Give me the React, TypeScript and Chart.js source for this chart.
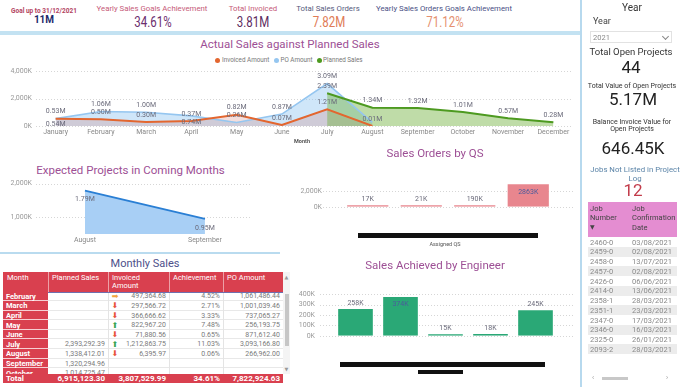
import React, { useEffect, useRef } from "react";
import { Chart, registerables } from "chart.js";
Chart.register(...registerables);

const FONT = "Roboto, 'Noto Sans', 'DejaVu Sans', sans-serif";

// ---------------- Data ----------------
const months = ["January", "February", "March", "April", "May", "June", "July", "August", "September", "October", "November", "December"];
const invoicedAmount = [531824.49, 497364.68, 297566.72, 366666.62, 822967.2, 71880.56, 1212863.75, 6395.97, null, null, null, null];
const poAmount = [535398.51, 1061486.44, 1001039.46, 737065.27, 256193.75, 871612.4, 3093166.8, 266962.0, null, null, null, null];
const plannedSales = [null, null, null, null, null, null, 2393292.39, 1338412.01, 1320294.96, 1014725.47, 570000.0, 278398.47];
const mainYTicks = [0, 2000000, 4000000];

const expectedMonths = ["August", "September"];
const expectedProjects = [1790000, 950000];
const expectedYTicks = [1000000, 2000000];

const qsNames = ["QS 1", "QS 2", "QS 3", "QS 4"];
const qsSalesOrders = [17000, 21000, 190000, 2863000];
const qsYTicks = [0, 2000000];

const engineerNames = ["Engineer 1", "Engineer 2", "Engineer 3", "Engineer 4", "Engineer 5"];
const engineerSales = [258000, 374000, 15000, 18000, 245000];
const engineerYTicks = [0, 100000, 200000, 300000, 400000];

const tableMonths = ["February", "March", "April", "May", "June", "July", "August", "September", "October"];
const tablePlanned = ["", "", "", "", "", "2,393,292.39", "1,338,412.01", "1,320,294.96", "1,014,725.47"];
const tableInvoiced = ["497,364.68", "297,566.72", "366,666.62", "822,967.20", "71,880.56", "1,212,863.75", "6,395.97", "", ""];
const tableTrend = ["right", "down", "down", "up", "down", "up", "down", "", ""];
const tableAchievement = ["4.52%", "2.71%", "3.33%", "7.48%", "0.65%", "11.03%", "0.06%", "", ""];
const tablePO = ["1,061,486.44", "1,001,039.46", "737,065.27", "256,193.75", "871,612.40", "3,093,166.80", "266,962.00", "", ""];
const tableTotals = ["Total", "6,915,123.30", "3,807,529.99", "34.61%", "7,822,924.63"];
const tableHeaders = [["Month"], ["Planned Sales"], ["Invoiced", "Amount"], ["Achievement"], ["PO Amount"]];

const jobNumbers = ["2460-0", "2459-0", "2458-0", "2457-0", "2426-0", "2414-0", "2358-1", "2351-1", "2347-0", "2346-0", "2325-0", "2093-2"];
const jobDates = ["03/08/2021", "02/08/2021", "13/07/2021", "02/08/2021", "06/06/2021", "13/06/2021", "28/03/2021", "23/03/2021", "17/03/2021", "16/03/2021", "26/01/2021", "28/03/2021"];

// ---------------- Helpers ----------------
const fmtAxisK = (v: number) => Math.round(v / 1000).toLocaleString("en-US") + "K";
const fmtLabel = (v: number, kind: string) =>
  kind === "M" ? (v / 1e6).toFixed(2) + "M" : String(Math.round(v / 1000)) + "K";

const extGrid = {
  id: "extGrid",
  beforeDraw(chart: any, _a: any, opts: any) {
    if (!opts || opts.x0 == null) return;
    const y = chart.scales.y;
    const ctx = chart.ctx;
    ctx.save();
    ctx.strokeStyle = opts.color || "#d6d6d6";
    ctx.lineWidth = 1;
    ctx.setLineDash([1, 2]);
    y.ticks.forEach((t: any) => {
      const py = Math.round(y.getPixelForValue(t.value)) + 0.5;
      ctx.beginPath();
      ctx.moveTo(opts.x0, py);
      ctx.lineTo(opts.x1, py);
      ctx.stroke();
    });
    ctx.restore();
  },
};

const valueLabels = {
  id: "valueLabels",
  afterDatasetsDraw(chart: any, _a: any, opts: any) {
    if (!opts || !opts.kind) return;
    const ctx = chart.ctx;
    ctx.save();
    ctx.font = `${opts.size || 7}px ${FONT}`;
    ctx.textAlign = "center";
    ctx.textBaseline = "middle";
    chart.data.datasets.forEach((ds: any, di: number) => {
      const meta = chart.getDatasetMeta(di);
      meta.data.forEach((el: any, i: number) => {
        const raw = ds.data[i];
        const v = raw && typeof raw === "object" ? raw.y : raw;
        if (v == null) return;
        const pos = (ds.labelPos && ds.labelPos[i]) || opts.pos || "above";
        if (pos === "hide") return;
        let y;
        ctx.fillStyle = opts.color || "#666";
        if (meta.type === "bar") {
          if (el.y - opts.gap - 4 < chart.chartArea.top) {
            y = el.y + opts.inside;
            ctx.fillStyle = opts.insideColor || "#4a5d9e";
          } else {
            y = el.y - opts.gap;
          }
        } else {
          y = pos === "below" ? el.y + (opts.below || 6) : el.y - (opts.above || 7);
        }
        ctx.fillText(fmtLabel(v, opts.kind), el.x, y);
      });
    });
    ctx.restore();
  },
};

const tickFont = { family: FONT, size: 7 };
const noGrid = { display: false, drawTicks: false };

// ---------------- Chart configs ----------------
const mainConfig: any = {
  type: "line",
  data: {
    labels: months,
    datasets: [
      {
        label: "Invoiced Amount", data: invoicedAmount, borderColor: "#e3662f", backgroundColor: "rgba(205,105,95,0.22)",
        fill: "origin", borderWidth: 2, pointRadius: 0, tension: 0, order: 2,
      },
      {
        label: "PO Amount", data: poAmount, borderColor: "#95c6f0", backgroundColor: "rgba(140,195,240,0.42)",
        fill: "origin", borderWidth: 1.6, pointRadius: 0, tension: 0, order: 3,
        labelPos: ["below", "above", "above", "below", "above", "above", "above", "hide"],
      },
      {
        label: "Planned Sales", data: plannedSales, borderColor: "#4d9a20", backgroundColor: "rgba(112,178,62,0.45)",
        fill: "origin", borderWidth: 2, pointRadius: 0, tension: 0, order: 1,
      },
    ],
  },
  options: {
    responsive: false, animation: false, devicePixelRatio: 1,
    layout: { padding: { top: 5, right: 4, left: 0, bottom: 0 } },
    plugins: {
      legend: { display: false }, tooltip: { enabled: false },
      filler: { drawTime: "beforeDatasetsDraw" },
      extGrid: { x0: 36, x1: 572 },
      valueLabels: { kind: "M", above: 7, below: 6, color: "#6a6a7a" },
    },
    scales: {
      x: {
        offset: true, grid: noGrid, border: { display: false },
        ticks: { font: tickFont, color: "#888", padding: 2, maxRotation: 0, autoSkip: false },
        afterFit: (s: any) => { s.height = 24; },
      },
      y: {
        min: 0, max: 4000000, grid: noGrid, border: { display: false },
        afterBuildTicks: (s: any) => { s.ticks = mainYTicks.map((v) => ({ value: v })); },
        afterFit: (s: any) => { s.width = 33; },
        ticks: { font: tickFont, color: "#999", padding: 1, callback: (v: any) => fmtAxisK(Number(v)) },
      },
    },
  },
  plugins: [extGrid, valueLabels],
};

const expectedConfig: any = {
  type: "line",
  data: {
    datasets: [
      {
        label: "Expected Projects", data: expectedProjects.map((v, i) => ({ x: i, y: v })),
        borderColor: "#2a7fd4", backgroundColor: "#a8cff5", fill: "start", borderWidth: 2, pointRadius: 0, tension: 0,
      },
    ],
  },
  options: {
    responsive: false, animation: false, devicePixelRatio: 1,
    layout: { padding: { top: 5, right: 28, left: 0, bottom: 0 } },
    plugins: {
      legend: { display: false }, tooltip: { enabled: false },
      extGrid: { x0: 36, x1: 252 },
      valueLabels: { kind: "M", pos: "below", below: 9, color: "#6a6a7a" },
    },
    scales: {
      x: {
        type: "linear", min: -0.408, max: 1.392, grid: noGrid, border: { display: false },
        afterBuildTicks: (s: any) => { s.ticks = expectedMonths.map((_, i) => ({ value: i })); },
        ticks: { font: tickFont, color: "#888", padding: 2, maxRotation: 0, autoSkip: false, callback: (v: any) => expectedMonths[Number(v)] },
        afterFit: (s: any) => { s.height = 14; },
      },
      y: {
        min: 500000, max: 2100000, grid: noGrid, border: { display: false },
        afterBuildTicks: (s: any) => { s.ticks = expectedYTicks.map((v) => ({ value: v })); },
        afterFit: (s: any) => { s.width = 36; },
        ticks: { font: tickFont, color: "#999", padding: 4, callback: (v: any) => fmtAxisK(Number(v)) },
      },
    },
  },
  plugins: [extGrid, valueLabels],
};

const barConfig = (labels: string[], values: number[], ticks: number[], max: number, color: string, o: any): any => ({
  type: "bar",
  data: {
    labels,
    datasets: [{ data: values, backgroundColor: color, barPercentage: 0.77, categoryPercentage: 1, minBarLength: 1.5 }],
  },
  options: {
    responsive: false, animation: false, devicePixelRatio: 1,
    layout: { padding: { top: o.top, right: o.right, left: 0, bottom: 0 } },
    plugins: {
      legend: { display: false }, tooltip: { enabled: false },
      extGrid: { x0: o.g0, x1: o.g1 },
      valueLabels: { kind: "K", gap: 6, inside: 7.5, color: "#6a6a7a", insideColor: "#4b5b9b" },
    },
    scales: {
      x: {
        grid: noGrid, border: { display: false }, ticks: { display: false },
        afterFit: (s: any) => { s.height = 1; },
      },
      y: {
        min: 0, max, grid: noGrid, border: { display: false },
        afterBuildTicks: (s: any) => { s.ticks = ticks.map((v) => ({ value: v })); },
        afterFit: (s: any) => { s.width = o.yw; },
        ticks: { font: tickFont, color: "#999", padding: o.pad, callback: (v: any) => fmtAxisK(Number(v)) },
      },
    },
  },
  plugins: [extGrid, valueLabels],
});

const qsConfig = barConfig(qsNames, qsSalesOrders, qsYTicks, 3000000, "#e8868e", { top: 7.5, right: 25, g0: 33, g1: 283, yw: 51, pad: 19 });
const engineerConfig = barConfig(engineerNames, engineerSales, engineerYTicks, 400000, "#2aa876", { top: 6, right: 22, g0: 30, g1: 283, yw: 43, pad: 18 });

// ---------------- Components ----------------
function ChartBox({ left, top, width, height, config }: any) {
  const ref = useRef<HTMLCanvasElement>(null);
  useEffect(() => {
    const c = new Chart(ref.current as HTMLCanvasElement, config);
    return () => c.destroy();
  }, []);
  return <canvas ref={ref} width={width} height={height} style={{ position: "absolute", left, top, width, height }} />;
}

function T({ x, y, s, c, t, a = "center", b = false, sx = 1, f = FONT }: any) {
  const h = Math.ceil(s * 1.35);
  const left = a === "center" ? x - 200 : a === "left" ? x : x - 400;
  const origin = a === "center" ? "50% 50%" : a === "left" ? "0 50%" : "100% 50%";
  return (
    <div
      style={{
        position: "absolute", left, top: y - h / 2, width: 400, height: h, lineHeight: h + "px", fontSize: s, color: c,
        fontWeight: b ? 700 : 400, textAlign: a, whiteSpace: "nowrap", fontFamily: f,
        transform: sx !== 1 ? `scaleX(${sx})` : undefined, transformOrigin: origin,
      }}
    >
      {t}
    </div>
  );
}

function Box({ x, y, w, h, bg, style }: any) {
  return <div style={{ position: "absolute", left: x, top: y, width: w, height: h, background: bg, ...style }} />;
}

const RED = "#d9404f";
const TITLE = "#9d4f95";
const colEdges = [3, 48, 108, 169, 223, 283];

function MonthlyTable() {
  const rowH = 9.6;
  const bodyTop = 292;
  const firstRowTop = 291.5;
  const els: any[] = [];
  // header
  els.push(<Box key="hb" x={3} y={272} w={280} h={20} bg={RED} />);
  tableHeaders.forEach((lines, ci) => {
    lines.forEach((ln, li) => {
      els.push(<T key={`h${ci}${li}`} x={colEdges[ci] + 4} y={277 + li * 8.5} s={7.5} c="#fff" t={ln} a="left" />);
    });
    if (ci > 0) els.push(<Box key={`hv${ci}`} x={colEdges[ci]} y={272} w={1} h={20} bg="rgba(255,255,255,0.5)" />);
  });
  // body rows
  const rows: any[] = [];
  rows.push(<Box key="mcol" x={0} y={0} w={45} h={82} bg={RED} />);
  tableMonths.forEach((m, ri) => {
    const top = firstRowTop + ri * rowH - bodyTop;
    const cy = top + rowH / 2;
    rows.push(<Box key={`mb${ri}`} x={0} y={Math.round(top + rowH) - 1} w={45} h={1} bg="rgba(255,255,255,0.75)" />);
    rows.push(<T key={`m${ri}`} x={3} y={cy} s={7.5} c="#fff" t={m} a="left" b />);
    rows.push(<Box key={`rl${ri}`} x={45} y={Math.round(top + rowH) - 1} w={235} h={1} bg="#e8e8e8" />);
    const vals = [tablePlanned[ri], tableInvoiced[ri], tableAchievement[ri], tablePO[ri]];
    vals.forEach((v, vi) => {
      if (v) rows.push(<T key={`v${ri}${vi}`} x={colEdges[vi + 2] - 3 - 3} y={cy} s={7} c="#7a7a7a" t={v} a="right" />);
    });
    const tr = tableTrend[ri];
    if (tr) {
      const glyph = tr === "up" ? "⬆" : tr === "down" ? "⬇" : "➡";
      const col = tr === "up" ? "#3aa655" : tr === "down" ? "#e8553a" : "#f2a541";
      rows.push(<T key={`a${ri}`} x={115 - 3} y={cy} s={8} c={col} t={glyph} f="'DejaVu Sans', sans-serif" />);
    }
  });
  [108, 169, 223].forEach((x, i) => rows.push(<Box key={`bv${i}`} x={x - 3} y={0} w={1} h={82} bg="#e4e4e4" />));
  els.push(
    <div key="body" style={{ position: "absolute", left: 3, top: bodyTop, width: 280, height: 82, overflow: "hidden", background: "#fff" }}>
      {rows}
    </div>
  );
  els.push(<Box key="hl" x={48} y={291.5} w={235} h={1} bg="#6f6fae" />);
  // scrollbar
  els.push(<Box key="sb" x={283} y={272} w={7} h={102} bg="#f4f4f4" />);
  els.push(<Box key="st" x={284.5} y={294} w={4} h={52} bg="#c6c6c6" />);
  els.push(<T key="su" x={286.5} y={277} s={5} c="#999" t="▲" />);
  els.push(<T key="sd" x={286.5} y={369} s={5} c="#999" t="▼" />);
  // total
  els.push(<Box key="tb" x={3} y={374} w={280} h={9} bg={RED} />);
  tableTotals.forEach((t, i) => {
    if (i === 0) els.push(<T key="t0" x={6} y={378.5} s={8} c="#fff" t={t} a="left" b />);
    else els.push(<T key={`t${i}`} x={colEdges[i + 1] - 3} y={378.5} s={8} c="#fff" t={t} a="right" b />);
  });
  return <>{els}</>;
}

function JobTable() {
  const els: any[] = [];
  els.push(<Box key="hb" x={588} y={202} w={89} h={35} bg="#e48dd1" />);
  els.push(<T key="h1" x={590} y={208} s={7.5} c="#444" t="Job" a="left" />);
  els.push(<T key="h2" x={590} y={217} s={7.5} c="#444" t="Number" a="left" />);
  els.push(<T key="h3" x={590} y={226.5} s={6} c="#444" t="▼" a="left" />);
  els.push(<T key="h4" x={632} y={208} s={7.5} c="#444" t="Job" a="left" />);
  els.push(<T key="h5" x={632} y={217} s={7.5} c="#444" t="Confirmation" a="left" />);
  els.push(<T key="h6" x={632} y={227} s={7.5} c="#444" t="Date" a="left" />);
  jobNumbers.forEach((jn, i) => {
    const top = 237 + i * 9.75;
    if (i % 2 === 1) els.push(<Box key={`rb${i}`} x={588} y={top} w={89} h={9.75} bg="#ececec" />);
    els.push(<T key={`n${i}`} x={590} y={top + 5} s={7.5} c="#8a8a8a" t={jn} a="left" />);
    els.push(<T key={`d${i}`} x={632} y={top + 5} s={7.5} c="#8a8a8a" t={jobDates[i]} a="left" />);
  });
  els.push(<T key="sl" x={593} y={378} s={7} c="#999" t="‹" />);
  els.push(<T key="sr" x={667} y={378} s={7} c="#999" t="›" />);
  els.push(<Box key="st" x={602} y={377} w={26} h={3} bg="#c8c8c8" />);
  return <>{els}</>;
}

export default function App() {
  useEffect(() => {
    document.body.style.margin = "0";
  }, []);
  return (
    <div style={{ position: "fixed", left: 0, top: 0, width: 680, height: 387, overflow: "hidden", background: "#fff", fontFamily: FONT }}>
      {/* KPI bar */}
      <T x={44} y={11} s={6.5} c="#b2435f" t="Goal up to 31/12/2021" b />
      <T x={44} y={20} s={10} c="#1f2a6b" t="11M" b />
      <T x={152} y={8} s={7.8} c="#c65a78" t="Yearly Sales Goals Achievement" />
      <T x={153} y={22} s={14} c="#6b2d6e" t="34.61%" sx={0.82} />
      <T x={253} y={8} s={7.8} c="#c65a78" t="Total Invoiced" />
      <T x={253} y={22} s={14} c="#5d2a5e" t="3.81M" sx={0.82} />
      <T x={328} y={8} s={7.8} c="#56597d" t="Total Sales Orders" />
      <T x={329} y={22.5} s={14} c="#e07b55" t="7.82M" sx={0.82} />
      <T x={444} y={8} s={7.8} c="#4a4f85" t="Yearly Sales Orders Goals Achievement" />
      <T x={445} y={22.5} s={14} c="#e5906f" t="71.12%" sx={0.82} />
      <Box x={0} y={31} w={580} h={4} bg="#c3e2f2" />

      {/* Main chart */}
      <T x={290} y={44} s={11.5} c={TITLE} t="Actual Sales against Planned Sales" />
      <div style={{ position: "absolute", left: 215, top: 57.5, width: 5, height: 5, borderRadius: 3, background: "#e3662f" }} />
      <T x={222} y={60} s={6.3} c="#777" t="Invoiced Amount" a="left" />
      <div style={{ position: "absolute", left: 273.5, top: 57.5, width: 5, height: 5, borderRadius: 3, background: "#95c6f0" }} />
      <T x={280.5} y={60} s={6.3} c="#777" t="PO Amount" a="left" />
      <div style={{ position: "absolute", left: 316.5, top: 57.5, width: 5, height: 5, borderRadius: 3, background: "#4d9a20" }} />
      <T x={323} y={60} s={6.3} c="#777" t="Planned Sales" a="left" />
      <ChartBox left={0} top={66} width={580} height={84} config={mainConfig} />
      <T x={302} y={141} s={5.5} c="#555" t="Month" b />

      {/* Expected projects */}
      <T x={130.5} y={170} s={11.5} c={TITLE} t="Expected Projects in Coming Months" />
      <ChartBox left={0} top={172} width={280} height={76} config={expectedConfig} />
      <Box x={0} y={252} w={280} h={2} bg="#b9dbef" />

      {/* Sales orders by QS */}
      <T x={435} y={153} s={11.5} c={TITLE} t="Sales Orders by QS" />
      <ChartBox left={290} top={160} width={290} height={70} config={qsConfig} />
      <Box x={358} y={233} w={180} h={5} bg="#111" />
      <T x={445} y={244} s={5.5} c="#555" t="Assigned QS" />

      {/* Monthly sales */}
      <T x={145} y={263.5} s={11} c="#4d4f8a" t="Monthly Sales" />
      <MonthlyTable />

      {/* Sales by engineer */}
      <T x={435} y={265} s={11.5} c={TITLE} t="Sales Achieved by Engineer" />
      <ChartBox left={290} top={272} width={290} height={86} config={engineerConfig} />
      <Box x={340} y={362} w={205} h={5} bg="#111" />
      <Box x={418} y={370} w={45} h={4} bg="#111" />

      {/* Right panel */}
      <Box x={580} y={0} w={2} h={387} bg="#b7d9ee" />
      <T x={632} y={8} s={10} c="#333" t="Year" />
      <T x={593} y={21} s={9} c="#444" t="Year" a="left" />
      <div style={{ position: "absolute", left: 590, top: 31, width: 82, height: 12, border: "1px solid #e2e2e2", boxSizing: "border-box" }} />
      <T x={593} y={37.5} s={7.5} c="#8a8a8a" t="2021" a="left" />
      <div style={{ position: "absolute", left: 663, top: 34, width: 4, height: 4, borderRight: "1px solid #888", borderBottom: "1px solid #888", transform: "rotate(45deg)" }} />
      <T x={631} y={51.5} s={9.5} c="#333" t="Total Open Projects" />
      <T x={631} y={67.5} s={17} c="#222" t="44" />
      <T x={632} y={86} s={7} c="#333" t="Total Value of Open Projects" />
      <T x={633} y={99.5} s={17} c="#222" t="5.17M" />
      <T x={632} y={122} s={7} c="#333" t="Balance Invoice Value for" />
      <T x={632} y={128.5} s={7} c="#333" t="Open Projects" />
      <T x={633} y={148} s={17} c="#222" t="646.45K" />
      <T x={635} y={169} s={7.8} c="#5b84a8" t="Jobs Not Listed in Project" />
      <T x={635} y={178} s={7.8} c="#5b84a8" t="Log" />
      <T x={633} y={190} s={17} c="#c23b4a" t="12" />
      <JobTable />
    </div>
  );
}
